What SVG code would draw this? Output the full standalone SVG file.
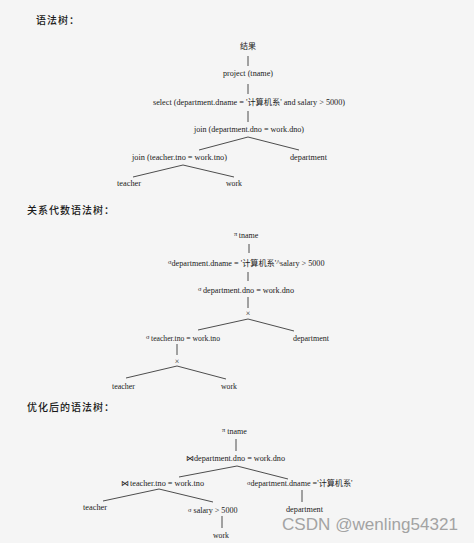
<svg xmlns="http://www.w3.org/2000/svg" width="474" height="543" viewBox="0 0 474 543">
<style>
  .bg { fill: #f5f5f5; }
  .t { font-family: "Liberation Serif", "Noto Sans CJK SC", serif; font-size: 8px; fill: #1a1a1a; }
  .h { font-family: "Noto Sans CJK SC", sans-serif; font-size: 10px; font-weight: 500; fill: #1a1a1a; letter-spacing: 1px; }
  .s { font-size: 6.5px; }
  .e { fill: none; stroke: #222; stroke-width: 0.8; }
  .wm { font-family: "Liberation Sans", "DejaVu Sans", sans-serif; font-size: 17px; fill: #a3a3a3; }
</style>
<rect class="bg" x="0" y="0" width="474" height="543"/>

<!-- Section 1 -->
<text class="h" x="36" y="24">语法树：</text>
<g id="connectors1">
  <line class="e" x1="248" y1="56" x2="248" y2="66"/>
  <line class="e" x1="248" y1="84" x2="248" y2="94"/>
  <line class="e" x1="248" y1="111" x2="248" y2="122"/>
  <polyline class="e" points="199,150 248,137 299,150"/>
  <polyline class="e" points="133,177 183,165 234,177"/>
</g>
<g id="n1-result"><text class="t" x="248" y="49" text-anchor="middle">结果</text></g>
<g id="n1-project"><text class="t" x="223" y="76" textLength="50" lengthAdjust="spacingAndGlyphs">project (tname)</text></g>
<g id="n1-select"><text class="t" x="153" y="105" textLength="192" lengthAdjust="spacingAndGlyphs">select (department.dname = '计算机系' and salary &gt; 5000)</text></g>
<g id="n1-join1"><text class="t" x="194" y="132" textLength="110" lengthAdjust="spacingAndGlyphs">join (department.dno = work.dno)</text></g>
<g id="n1-join2"><text class="t" x="132" y="160" textLength="95" lengthAdjust="spacingAndGlyphs">join (teacher.tno = work.tno)</text></g>
<g id="n1-department"><text class="t" x="290" y="160" textLength="37" lengthAdjust="spacingAndGlyphs">department</text></g>
<g id="n1-teacher"><text class="t" x="117" y="186" textLength="24" lengthAdjust="spacingAndGlyphs">teacher</text></g>
<g id="n1-work"><text class="t" x="226" y="186" textLength="16" lengthAdjust="spacingAndGlyphs">work</text></g>

<!-- Section 2 -->
<text class="h" x="27" y="214">关系代数语法树：</text>
<g id="connectors2">
  <line class="e" x1="249" y1="244" x2="249" y2="253"/>
  <line class="e" x1="248" y1="272" x2="248" y2="281"/>
  <line class="e" x1="248" y1="297" x2="248" y2="308"/>
  <polyline class="e" points="198,330 248,319 294,331"/>
  <line class="e" x1="177" y1="344" x2="177" y2="355"/>
  <polyline class="e" points="126,378 177,366 226,379"/>
</g>
<g id="n2-pi"><text class="t" x="234" y="238"><tspan class="s" dy="-2">π</tspan><tspan dy="2" dx="1.5">tname</tspan></text></g>
<g id="n2-sel1"><text class="t" x="168" y="266"><tspan class="s" dy="-2">σ</tspan><tspan dy="2" textLength="153" lengthAdjust="spacingAndGlyphs">department.dname = '计算机系'^salary &gt; 5000</tspan></text></g>
<g id="n2-sel2"><text class="t" x="198" y="293"><tspan class="s" dy="-2">σ</tspan><tspan dy="2" dx="1.5" textLength="91" lengthAdjust="spacingAndGlyphs">department.dno = work.dno</tspan></text></g>
<g id="n2-x1"><text class="t" x="248" y="316" text-anchor="middle">×</text></g>
<g id="n2-sel3"><text class="t" x="146" y="341"><tspan class="s" dy="-2">σ</tspan><tspan dy="2" dx="1.5" textLength="69" lengthAdjust="spacingAndGlyphs">teacher.tno = work.tno</tspan></text></g>
<g id="n2-department"><text class="t" x="293" y="341" textLength="36" lengthAdjust="spacingAndGlyphs">department</text></g>
<g id="n2-x2"><text class="t" x="177" y="364" text-anchor="middle">×</text></g>
<g id="n2-teacher"><text class="t" x="112" y="389" textLength="23" lengthAdjust="spacingAndGlyphs">teacher</text></g>
<g id="n2-work"><text class="t" x="221" y="389" textLength="16" lengthAdjust="spacingAndGlyphs">work</text></g>

<!-- Section 3 -->
<text class="h" x="27" y="411">优化后的语法树：</text>
<g id="connectors3">
  <line class="e" x1="236" y1="439" x2="236" y2="451"/>
  <polyline class="e" points="179,477 237,466 288,479"/>
  <polyline class="e" points="103,501 159,489 213,502"/>
  <line class="e" x1="302" y1="490" x2="302" y2="502"/>
  <line class="e" x1="222" y1="516" x2="222" y2="528"/>
</g>
<g id="n3-pi"><text class="t" x="222" y="434"><tspan class="s" dy="-2">π</tspan><tspan dy="2" dx="2">tname</tspan></text></g>
<g id="n3-join1"><text class="t" x="186" y="461"><tspan>⋈</tspan><tspan textLength="91" lengthAdjust="spacingAndGlyphs">department.dno = work.dno</tspan></text></g>
<g id="n3-join2"><text class="t" x="121" y="486"><tspan>⋈</tspan><tspan dx="1" textLength="74" lengthAdjust="spacingAndGlyphs">teacher.tno = work.tno</tspan></text></g>
<g id="n3-sel-dept"><text class="t" x="247" y="486"><tspan class="s" dy="-1">σ</tspan><tspan dy="1" textLength="102" lengthAdjust="spacingAndGlyphs">department.dname ='计算机系'</tspan></text></g>
<g id="n3-teacher"><text class="t" x="83" y="510" textLength="24" lengthAdjust="spacingAndGlyphs">teacher</text></g>
<g id="n3-sel-salary"><text class="t" x="188" y="513"><tspan class="s" dy="-1">σ</tspan><tspan dy="1" dx="2" textLength="44" lengthAdjust="spacingAndGlyphs">salary &gt; 5000</tspan></text></g>
<g id="n3-department"><text class="t" x="286" y="512" textLength="37" lengthAdjust="spacingAndGlyphs">department</text></g>
<g id="n3-work"><text class="t" x="213" y="538" textLength="16" lengthAdjust="spacingAndGlyphs">work</text></g>

<text class="wm" x="282" y="530" textLength="176" lengthAdjust="spacingAndGlyphs">CSDN @wenling54321</text>
</svg>
